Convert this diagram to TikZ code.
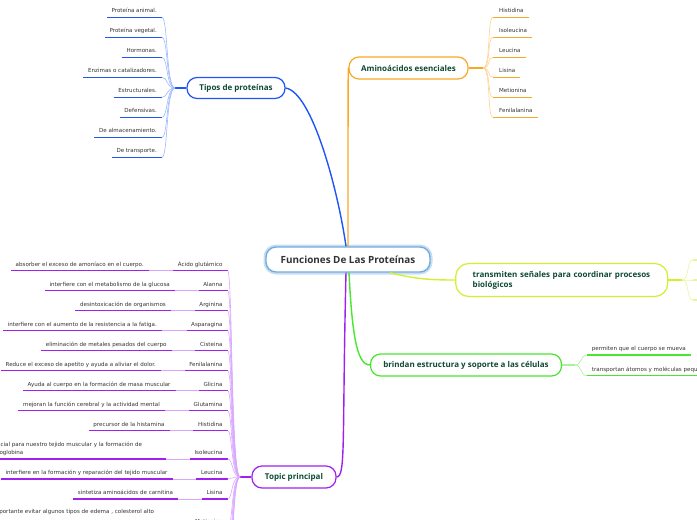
\documentclass[tikz,border=0pt]{standalone}
\usepackage{fontspec}
\setmainfont{Open Sans}
\newfontfamily\leaffont{DejaVu Sans}
\usetikzlibrary{calc}
\definecolor{cblue}{HTML}{74ACE0}
\definecolor{tgreen}{HTML}{0E4A33}
\definecolor{txt}{HTML}{333333}
\definecolor{bl}{HTML}{1F55F5}
\definecolor{bll}{HTML}{9DB8FF}
\definecolor{orc}{HTML}{F9A825}
\definecolor{orl}{HTML}{FFD28F}
\definecolor{yg}{HTML}{D2F02E}
\definecolor{ygl}{HTML}{E6F79A}
\definecolor{grc}{HTML}{48E62E}
\definecolor{grl}{HTML}{A8F29A}
\definecolor{puc}{HTML}{A020F0}
\definecolor{pul}{HTML}{D9A6FF}
\begin{document}
\begin{tikzpicture}[x=1pt,y=-1pt,
  topicbox/.style={draw=#1, line width=1.2pt, rounded corners=10pt, fill=white, text=tgreen,
     font=\bfseries\fontsize{8}{10}\selectfont, minimum height=21pt, inner xsep=10pt},
  leaf/.style={inner sep=0pt, text=txt, font=\leaffont\fontsize{5.55}{8}\selectfont},
  ulin/.style={draw=#1, line width=1.5pt},
  link/.style={draw=#1, line width=0.6pt},
  mainlink/.style={draw=#1, line width=1.4pt},
]
\path[use as bounding box] (0,0) rectangle (697,520);
\clip (0,0) rectangle (697,520);

% ---------- main nodes ----------
\node[draw=cblue!40, line width=3pt, rounded corners=11pt, minimum width=166pt, minimum height=27pt] (cshadow) at (348,259.5) {};
\node[draw=cblue, line width=1.4pt, rounded corners=10pt, fill=white, text=txt,
      font=\bfseries\fontsize{9.9}{11}\selectfont, minimum width=164pt, minimum height=25pt] (c) at (348,259.5) {Funciones De Las Proteínas};

\node[topicbox=bl, minimum width=98pt] (tipos) at (236,88) {Tipos de proteínas};
\node[topicbox=orc, minimum width=119pt, minimum height=22pt] (amino) at (408.5,68) {Aminoácidos esenciales};
\node[topicbox=yg, minimum height=33pt, rounded corners=13pt, inner xsep=17pt, text width=178pt, align=left] (trans) at (561.7,280)
   {transmiten señales para coordinar procesos\\biológicos};
\node[topicbox=grc, minimum width=191pt, minimum height=22pt] (brin) at (466,365) {brindan estructura y soporte a las células};
\node[topicbox=puc, minimum width=84pt, minimum height=22pt] (topic) at (294,477) {Topic principal};

% ---------- main connectors ----------
\draw[mainlink=bl] (tipos.east) .. controls (312,92) and (338,190) .. ([xshift=-2pt]c.north);
\draw[mainlink=orc] ([xshift=0pt]c.north) .. controls (348,160) and (348,68) .. (amino.west);
\draw[mainlink=yg] ([xshift=42pt]c.south) .. controls (415,279) and (430,280) .. (trans.west);
\draw[mainlink=grc] ([xshift=1pt]c.south) .. controls (352,330) and (356,365) .. (brin.west);
\draw[mainlink=puc] ([xshift=-2pt]c.south) .. controls (342,440) and (346,477) .. (topic.east);

% ---------- Tipos de proteinas ----------
\coordinate (tj) at (175,88);
\draw[ulin=bl] (tipos.west) -- (tj);
\foreach \t [count=\i] in {Proteína animal.,Proteína vegetal.,Hormonas.,Enzimas o catalizadores.,Estructurales.,Defensivas.,De almacenamiento.,De transporte.}{
  \pgfmathsetmacro\yb{12.8+20*(\i-1)}
  \node[leaf, anchor=base east] (tp\i) at (157,\yb) {\t};
  \draw[ulin=bl] ([xshift=-4.5pt,yshift=-4.5pt]tp\i.base west) coordinate (tps\i) -- ([xshift=5pt,yshift=-4.5pt]tp\i.base east) coordinate (tpe\i);
  \draw[link=bll] (tpe\i) .. controls +(6,0) and (166,88) .. (tj);
}

% ---------- Aminoacidos esenciales ----------
\coordinate (aj) at (483,68);
\draw[ulin=orc] (amino.east) -- (aj);
\foreach \t [count=\i] in {Histidina,Isoleucina,Leucina,Lisina,Metionina,Fenilalanina}{
  \pgfmathsetmacro\yb{12.8+20*(\i-1)}
  \node[leaf, anchor=base west] (am\i) at (499,\yb) {\t};
  \draw[ulin=orc] ([xshift=-6pt,yshift=-4.5pt]am\i.base west) coordinate (ams\i) -- ([xshift=5pt,yshift=-4.5pt]am\i.base east) coordinate (ame\i);
  \draw[link=orl] (aj) .. controls (491,68) and (487,\yb+4.5) .. (ams\i);
}

% ---------- transmiten (branches leaving the picture) ----------
\coordinate (yj) at (682,280);
\draw[ulin=yg] (trans.east) -- (yj);
\foreach \yy [count=\i] in {260,280,300}{
  \coordinate (ys\i) at (693,\yy);
  \coordinate (ye\i) at (720,\yy);
  \draw[link=ygl] (yj) .. controls (690,280) and (686,\yy) .. (ys\i);
  \draw[ulin=ygl] (ys\i) -- (ye\i);
}

% ---------- brindan estructura ----------
\coordinate (gj) at (575,365);
\draw[ulin=grl] (brin.east) -- (gj);
\node[leaf, anchor=base west] (g1) at (591.7,350.5) {permiten que el cuerpo se mueva};
\node[leaf, anchor=base west] (g2) at (591.7,371.2) {transportan átomos y moléculas pequeñas};
\coordinate (g1s) at (587,355); \coordinate (g1e) at ([xshift=5pt]g1.east |- g1s);
\coordinate (g2s) at (587,375.7); \coordinate (g2e) at (720,375.7);
\draw[ulin=grc] (g1s) -- (g1e);
\draw[ulin=grc] (g2s) -- (g2e);
\draw[link=grl] (gj) .. controls (582,365) and (580,355) .. (g1s);
\draw[link=grl] (gj) .. controls (582,365) and (580,375.7) .. (g2s);

% ---------- Topic principal ----------
\coordinate (pj) at (240,477);
\draw[ulin=puc] (topic.west) -- (pj);
\foreach \p/\ch/\ce/\uy [count=\i] in {
  Ácido glutámico/absorber el exceso de amoníaco en el cuerpo./144/270.7,
  Alanna/interfiere con el metabolismo de la glucosa/170/290.7,
  Arginina/desintoxicación de organismos/166/310.7,
  Asparagina/interfiere con el aumento de la resistencia a la fatiga./157/330.7,
  Cisteina/eliminación de metales pesados del cuerpo/166.7/350.7,
  Fenilalanina/Reduce el exceso de apetito y ayuda a aliviar el dolor./156/370.7,
  Glicina/Ayuda al cuerpo en la formación de masa muscular/170.7/390.7,
  Glutamina/mejoran la función cerebral y la actividad mental/160/410.7,
  Histidina/precursor de la histamina/164.7/430.7,
  Leucina/interfiere en la formación y reparación del tejido muscular/167.7/479,
  Lisina/sintetiza aminoácidos de carnitina/173.3/499}{
  \node[leaf, anchor=base east] (pp\i) at (222.7,\uy-4.5) {\p};
  \draw[ulin=puc] ([xshift=-4.5pt,yshift=-4.5pt]pp\i.base west) coordinate (pps\i) -- (227.7,\uy) coordinate (ppe\i);
  \node[leaf, anchor=base east] (pc\i) at (\ce,\uy-4.5) {\ch};
  \draw[ulin=puc] ([xshift=-4.5pt,yshift=-4.5pt]pc\i.base west) coordinate (pcs\i) -- ([xshift=5pt,yshift=-4.5pt]pc\i.base east) coordinate (pce\i);
  \draw[link=pul, line width=1pt] (pce\i) -- (pps\i);
  \draw[link=pul] (ppe\i) .. controls (232.5,\uy) and (231,477) .. (pj);
}
% Isoleucina (two-line child)
\node[leaf, anchor=base east] (iso) at (222.7,454.5) {Isoleucina};
\draw[ulin=puc] ([xshift=-4.5pt,yshift=-4.5pt]iso.base west) coordinate (isos) -- (227.7,459) coordinate (isoe);
\node[leaf, anchor=north west, align=left] (isoc) at (-13,442.0) {Esencial para nuestro tejido muscular y la formación de\\hemoglobina};
\coordinate (isocs) at (-20,459); \coordinate (isoce) at (166,459);
\draw[ulin=puc] (isocs) -- (isoce);
\draw[link=pul, line width=1pt] (isoce) -- (isos);
\draw[link=pul] (isoe) .. controls (233,459) and (232,477) .. (pj);
% Metionina (partly outside the picture)
\node[leaf, anchor=base east] (met) at (222.7,523.2) {Metionina};
\node[leaf, anchor=base west] (metc) at (-16,513.6) {Es importante evitar algunos tipos de edema , colesterol alto};
\coordinate (mete) at (227.7,528);
\draw[link=pul] (mete) .. controls (233,528) and (231,477) .. (pj);
\foreach \yy [count=\i] in {548,568,588,608}{
  \coordinate (mx\i) at (227.7,\yy);
  \draw[link=pul] (mx\i) .. controls (233,\yy) and (231,477) .. (pj);
}
\end{tikzpicture}
\end{document}
